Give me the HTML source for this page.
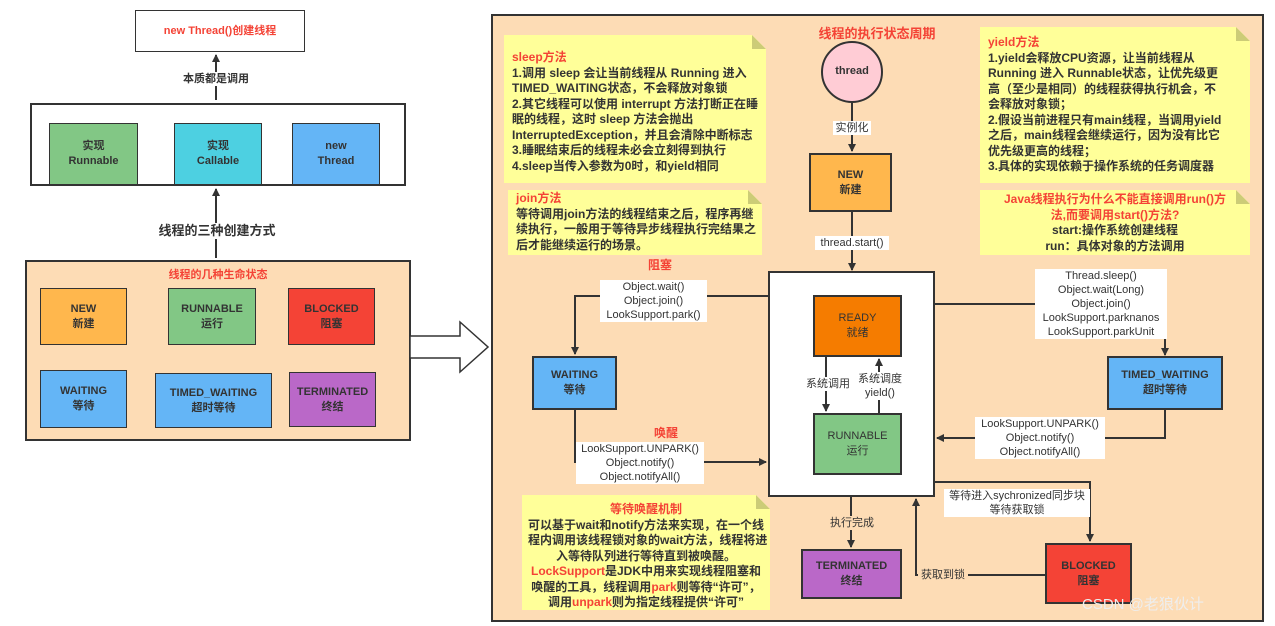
<!DOCTYPE html>
<html><head><meta charset="utf-8"><style>
*{margin:0;padding:0;box-sizing:border-box}
body{width:1275px;height:626px;background:#fff;position:relative;overflow:hidden;font-family:"Liberation Sans","Noto Sans CJK SC",sans-serif;color:#333}
.a{position:absolute}
.box{position:absolute;border:2px solid #333;display:flex;flex-direction:column;align-items:center;justify-content:center;text-align:center;font-size:11px;line-height:15px;color:#333}
.b{font-weight:bold}
.note{position:absolute;background:#ffff99;font-size:12px;line-height:15.5px;font-weight:bold;color:#333;padding:4px 8px;white-space:nowrap;clip-path:polygon(0 0,calc(100% - 14px) 0,100% 14px,100% 100%,0 100%)}
.note .f{position:absolute;right:0;top:0;width:14px;height:14px;background:#cccc77;clip-path:polygon(0 0,100% 100%,0 100%)}
.red{color:#f44336}
.lbl{position:absolute;background:#fff;font-size:11px;line-height:14px;text-align:center;color:#333}
</style></head><body>
<div class="box b" style="left:135px;top:10px;width:170px;height:42px;color:#f44336;border-width:1px">new Thread()创建线程</div>
<div class="a" style="left:30px;top:103px;width:376px;height:83px;border:2px solid #333"></div>
<div class="box b" style="left:49px;top:123px;width:89px;height:62px;background:#82c785;border-width:1px">实现<br>Runnable</div>
<div class="box b" style="left:174px;top:123px;width:88px;height:62px;background:#4dd0e1;border-width:1px">实现<br>Callable</div>
<div class="box b" style="left:292px;top:123px;width:88px;height:62px;background:#64b5f6;border-width:1px">new<br>Thread</div>
<div class="a" style="left:25px;top:260px;width:386px;height:181px;background:#fddcb5;border:2px solid #333"></div>
<div class="a b red" style="left:25px;top:266px;width:386px;text-align:center;font-size:11px">线程的几种生命状态</div>
<div class="box b" style="left:40px;top:288px;width:87px;height:57px;background:#ffb74d;border-width:1px">NEW<br>新建</div>
<div class="box b" style="left:168px;top:288px;width:88px;height:57px;background:#82c785;border-width:1px">RUNNABLE<br>运行</div>
<div class="box b" style="left:288px;top:288px;width:87px;height:57px;background:#f44336;border-width:1px">BLOCKED<br>阻塞</div>
<div class="box b" style="left:40px;top:370px;width:87px;height:58px;background:#64b5f6;border-width:1px">WAITING<br>等待</div>
<div class="box b" style="left:155px;top:373px;width:117px;height:55px;background:#64b5f6;border-width:1px">TIMED_WAITING<br>超时等待</div>
<div class="box b" style="left:289px;top:372px;width:87px;height:55px;background:#ba68c8;border-width:1px">TERMINATED<br>终结</div>
<div class="a" style="left:491px;top:14px;width:773px;height:608px;background:#fddcb5;border:2px solid #333"></div>
<svg class="a" style="left:0;top:0" width="1275" height="626">
<defs><marker id="m" markerWidth="8" markerHeight="8" refX="7" refY="4" orient="auto" markerUnits="userSpaceOnUse"><path d="M0,0 L8,4 L0,8z" fill="#333"/></marker></defs>
<g stroke="#333" stroke-width="2" fill="none">
<line x1="216" y1="100" x2="216" y2="55" marker-end="url(#m)"/>
<line x1="216" y1="258" x2="216" y2="189" marker-end="url(#m)"/>
<line x1="852" y1="102" x2="852" y2="151" marker-end="url(#m)"/>
<line x1="852" y1="212" x2="852" y2="270" marker-end="url(#m)"/>
<polyline points="770,296 575,296 575,354" marker-end="url(#m)"/>
<polyline points="575,410 575,462 766,462" marker-end="url(#m)"/>
<polyline points="935,304 1165,304 1165,355" marker-end="url(#m)"/>
<polyline points="1165,410 1165,438 937,438" marker-end="url(#m)"/>
<polyline points="935,482 1090,482 1090,541" marker-end="url(#m)"/>
<polyline points="1045,575 916,575 916,499" marker-end="url(#m)"/>
<line x1="851" y1="497" x2="851" y2="547" marker-end="url(#m)"/>
</g>
<path d="M410,336 L460,336 L460,322 L488,347 L460,372 L460,358 L410,358z" fill="#fff" stroke="#333" stroke-width="1.5"/>
<circle cx="852" cy="72" r="30" fill="#ffccd5" stroke="#333" stroke-width="2"/>
</svg>
<div class="lbl b" style="left:180px;top:72px;width:72px">本质都是调用</div>
<div class="lbl b" style="left:155px;top:223px;width:124px;font-size:13px;line-height:16px">线程的三种创建方式</div>
<div class="a b red" style="left:790px;top:23px;width:174px;text-align:center;font-size:13px">线程的执行状态周期</div>
<div class="a b" style="left:822px;top:65px;width:60px;text-align:center;font-size:11px">thread</div>
<div class="note" style="left:504px;top:35px;width:262px;height:148px;padding-top:15px"><div class="f"></div><span class="red">sleep方法</span><br>1.调用 sleep 会让当前线程从 Running 进入<br>TIMED_WAITING状态，不会释放对象锁<br>2.其它线程可以使用 interrupt 方法打断正在睡<br>眠的线程，这时 sleep 方法会抛出<br>InterruptedException，并且会清除中断标志<br>3.睡眠结束后的线程未必会立刻得到执行<br>4.sleep当传入参数为0时，和yield相同</div>
<div class="note" style="left:508px;top:190px;width:254px;height:65px;padding-top:1px"><div class="f"></div><span class="red">join方法</span><br>等待调用join方法的线程结束之后，程序再继<br>续执行，一般用于等待异步线程执行完结果之<br>后才能继续运行的场景。</div>
<div class="note" style="left:980px;top:27px;width:270px;height:156px;padding-top:8px"><div class="f"></div><span class="red">yield方法</span><br>1.yield会释放CPU资源，让当前线程从<br>Running 进入 Runnable状态，让优先级更<br>高（至少是相同）的线程获得执行机会，不<br>会释放对象锁；<br>2.假设当前进程只有main线程，当调用yield<br>之后，main线程会继续运行，因为没有比它<br>优先级更高的线程；<br>3.具体的实现依赖于操作系统的任务调度器</div>
<div class="note" style="left:980px;top:190px;width:270px;height:65px;text-align:center;padding-top:2px"><div class="f"></div><span class="red">Java线程执行为什么不能直接调用run()方<br>法,而要调用start()方法?</span><br>start:操作系统创建线程<br>run：具体对象的方法调用</div>
<div class="note" style="left:522px;top:495px;width:248px;height:115px;text-align:center;padding:7px 6px"><div class="f"></div><span class="red">等待唤醒机制</span><br>可以基于wait和notify方法来实现，在一个线<br>程内调用该线程锁对象的wait方法，线程将进<br>入等待队列进行等待直到被唤醒。<br><span class="red">LockSupport</span>是JDK中用来实现线程阻塞和<br>唤醒的工具，线程调用<span class="red">park</span>则等待“许可”，<br>调用<span class="red">unpark</span>则为指定线程提供“许可”</div>
<div class="lbl" style="left:833px;top:121px;width:38px">实例化</div>
<div class="box b" style="left:809px;top:153px;width:83px;height:59px;background:#ffb74d">NEW<br>新建</div>
<div class="lbl" style="left:815px;top:236px;width:74px">thread.start()</div>
<div class="a" style="left:768px;top:271px;width:167px;height:226px;background:#fff;border:2px solid #333"></div>
<svg class="a" style="left:0;top:0" width="1275" height="626">
<defs><marker id="m2" markerWidth="8" markerHeight="8" refX="7" refY="4" orient="auto" markerUnits="userSpaceOnUse"><path d="M0,0 L8,4 L0,8z" fill="#333"/></marker></defs>
<g stroke="#333" stroke-width="2" fill="none">
<line x1="826" y1="357" x2="826" y2="411" marker-end="url(#m2)"/>
<line x1="879" y1="413" x2="879" y2="359" marker-end="url(#m2)"/>
</g></svg>
<div class="box" style="left:813px;top:295px;width:89px;height:62px;background:#f57c00">READY<br>就绪</div>
<div class="box" style="left:813px;top:413px;width:89px;height:62px;background:#82c785">RUNNABLE<br>运行</div>
<div class="lbl" style="left:803px;top:377px;width:50px">系统调用</div>
<div class="lbl" style="left:855px;top:372px;width:50px">系统调度<br>yield()</div>
<div class="a b red" style="left:640px;top:256px;width:40px;text-align:center;font-size:12px">阻塞</div>
<div class="lbl" style="left:600px;top:280px;width:107px">Object.wait()<br>Object.join()<br>LookSupport.park()</div>
<div class="box b" style="left:532px;top:356px;width:85px;height:54px;background:#64b5f6">WAITING<br>等待</div>
<div class="a b red" style="left:646px;top:424px;width:40px;text-align:center;font-size:12px">唤醒</div>
<div class="lbl" style="left:576px;top:442px;width:128px">LookSupport.UNPARK()<br>Object.notify()<br>Object.notifyAll()</div>
<div class="lbl" style="left:1035px;top:269px;width:132px">Thread.sleep()<br>Object.wait(Long)<br>Object.join()<br>LookSupport.parknanos<br>LookSupport.parkUnit</div>
<div class="box b" style="left:1107px;top:356px;width:116px;height:54px;background:#64b5f6">TIMED_WAITING<br>超时等待</div>
<div class="lbl" style="left:975px;top:417px;width:130px">LookSupport.UNPARK()<br>Object.notify()<br>Object.notifyAll()</div>
<div class="lbl" style="left:944px;top:489px;width:146px">等待进入sychronized同步块<br>等待获取锁</div>
<div class="lbl" style="left:827px;top:516px;width:50px;background:#fddcb5">执行完成</div>
<div class="box b" style="left:801px;top:549px;width:101px;height:50px;background:#ba68c8">TERMINATED<br>终结</div>
<div class="lbl" style="left:918px;top:568px;width:50px;background:#fddcb5">获取到锁</div>
<div class="box b" style="left:1045px;top:543px;width:87px;height:61px;background:#f44336">BLOCKED<br>阻塞</div>
<div class="a" style="left:1082px;top:593px;font-size:15px;color:#eee">CSDN @老狼伙计</div>
</body></html>
